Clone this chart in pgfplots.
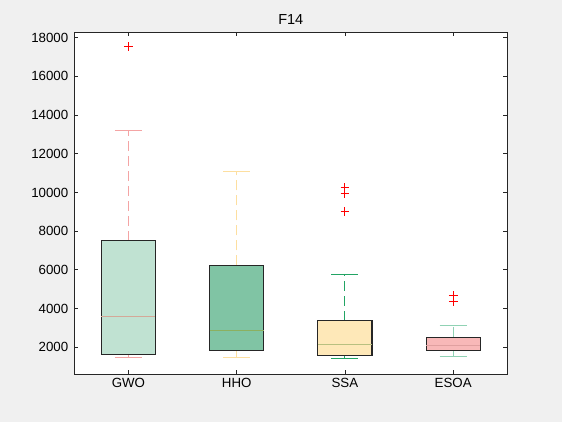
\documentclass[border=0pt]{standalone}
\usepackage{fontspec}
\setmainfont{Liberation Sans}
\usepackage{pgfplots}
\pgfplotsset{compat=1.18}
\definecolor{figbg}{HTML}{F0F0F0}
\definecolor{axc}{HTML}{262626}
\definecolor{gwofill}{HTML}{C0E2D2}
\definecolor{gwowh}{HTML}{F4A4A4}
\definecolor{gwomed}{HTML}{D4A898}
\definecolor{hhofill}{HTML}{80C4A4}
\definecolor{hhowh}{HTML}{FDDFA0}
\definecolor{hhomed}{HTML}{8CB060}
\definecolor{ssafill}{HTML}{FEE8B8}
\definecolor{ssawh}{HTML}{22A464}
\definecolor{ssamed}{HTML}{B8C080}
\definecolor{esoafill}{HTML}{F8B8B8}
\definecolor{esoawh}{HTML}{90D2B4}
\definecolor{esoamed}{HTML}{E0A0A0}
\definecolor{outl}{HTML}{FF0000}
\pgfplotsset{
  wh/.style={line width=1bp, dash pattern=on 10bp off 5bp},
  cap/.style={line width=1bp, solid},
  bx/.style={draw=axc, line width=1.2bp},
  md/.style={line width=1.2bp},
  ol/.style={draw=outl, line width=1.1bp, solid, mark=none},
}
\begin{document}
\begin{tikzpicture}
\fill[figbg] (0,0) rectangle (562bp,422bp);
\useasboundingbox (0,0) rectangle (562bp,422bp);
\begin{axis}[
  at={(74.3bp,48bp)}, anchor=south west,
  scale only axis, width=433bp, height=341.7bp,
  axis background/.style={fill=white},
  axis line style={axc, line width=0.8bp},
  unbounded coords=jump,
  xmin=0.5, xmax=4.5, ymin=620, ymax=18279,
  xtick={1,2,3,4}, xticklabels={GWO,HHO,SSA,ESOA},
  ytick={2000,4000,6000,8000,10000,12000,14000,16000,18000},
  scaled y ticks=false,
  /pgf/number format/assume math mode=true,
  yticklabel style={/pgf/number format/1000 sep={}, xshift=-2.5bp},
  tick align=inside, major tick length=4bp,
  tick style={axc, line width=0.8bp},
  ticklabel style={font=\fontsize{13.3bp}{15bp}\selectfont},
  xticklabel style={yshift=-1bp},
  title={F14}, title style={font=\fontsize{14.5bp}{17bp}\selectfont, yshift=-2bp},
]
% GWO
\addplot[gwowh, wh] coordinates {(1,7509) (1,13178) (1,nan) (1,1483) (1,1638)};
\addplot[gwowh, cap] coordinates {(0.875,13178) (1.125,13178) (1,nan) (0.875,1483) (1.125,1483)};
\addplot[bx, fill=gwofill] coordinates {(0.75,1638) (1.25,1638) (1.25,7509) (0.75,7509)} -- cycle;
\addplot[gwomed, md] coordinates {(0.75,3581) (1.25,3581)};
% HHO
\addplot[hhowh, wh] coordinates {(2,6238) (2,11096) (2,nan) (2,1463) (2,1825)};
\addplot[hhowh, cap] coordinates {(1.875,11096) (2.125,11096) (2,nan) (1.875,1463) (2.125,1463)};
\addplot[bx, fill=hhofill] coordinates {(1.75,1825) (2.25,1825) (2.25,6238) (1.75,6238)} -- cycle;
\addplot[hhomed, md] coordinates {(1.75,2879) (2.25,2879)};
% SSA
\addplot[ssawh, wh] coordinates {(3,3375) (3,5752) (3,nan) (3,1432) (3,1587)};
\addplot[ssawh, cap] coordinates {(2.875,5752) (3.125,5752) (3,nan) (2.875,1432) (3.125,1432)};
\addplot[bx, fill=ssafill] coordinates {(2.75,1587) (3.25,1587) (3.25,3375) (2.75,3375)} -- cycle;
\addplot[ssamed, md] coordinates {(2.75,2134) (3.25,2134)};
% ESOA
\addplot[esoawh, wh] coordinates {(4,2517) (4,3116) (4,nan) (4,1535) (4,1845)};
\addplot[esoawh, cap] coordinates {(3.875,3116) (4.125,3116) (4,nan) (3.875,1535) (4.125,1535)};
\addplot[bx, fill=esoafill] coordinates {(3.75,1845) (4.25,1845) (4.25,2517) (3.75,2517)} -- cycle;
\addplot[esoamed, md] coordinates {(3.75,2103) (4.25,2103)};
% outliers: red plus signs (half-width 0.04 in x, 222 in y), one path
\addplot[ol] coordinates {
  (0.96,17535) (1.04,17535) (1,nan) (1,17313) (1,17757) (1,nan)
  (2.96,10248) (3.04,10248) (3,nan) (3,10026) (3,10470) (3,nan)
  (2.96,9959) (3.04,9959) (3,nan) (3,9737) (3,10181) (3,nan)
  (2.96,9028) (3.04,9028) (3,nan) (3,8806) (3,9250) (3,nan)
  (3.96,4667) (4.04,4667) (4,nan) (4,4445) (4,4889) (4,nan)
  (3.96,4357) (4.04,4357) (4,nan) (4,4135) (4,4579)};
\end{axis}
\end{tikzpicture}
\end{document}
